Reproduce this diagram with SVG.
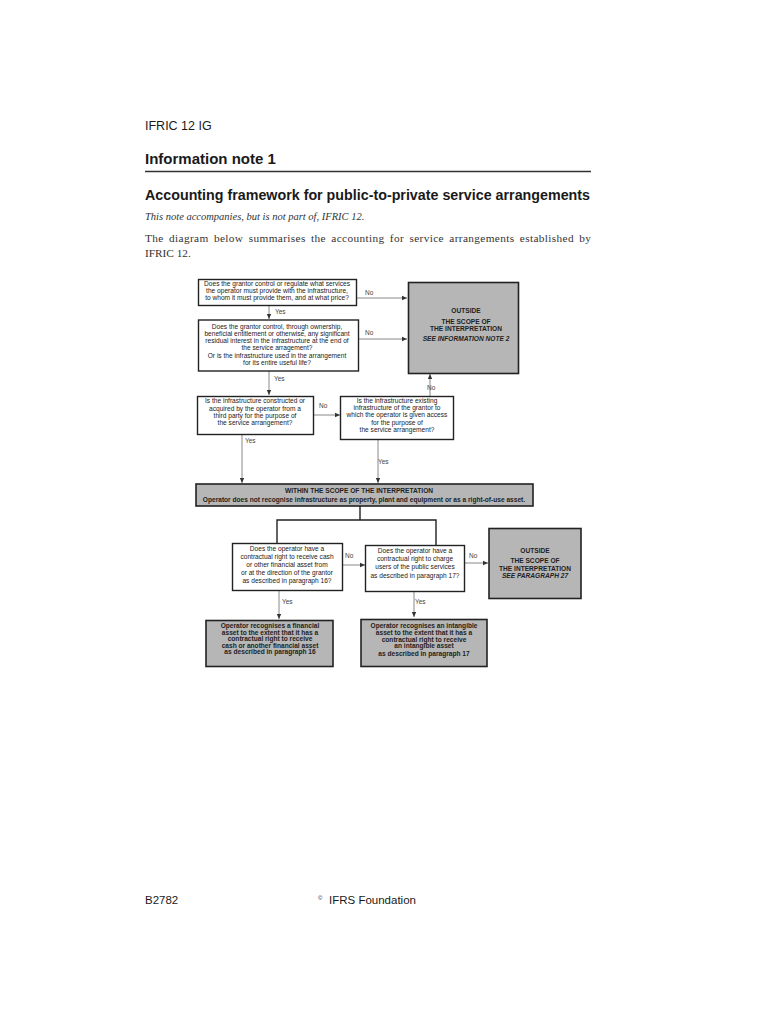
<svg xmlns="http://www.w3.org/2000/svg" width="768" height="1024" viewBox="0 0 768 1024">
<style>
.page{font-family:"Liberation Sans",Arial,sans-serif;fill:#1a1a1a}
.ser{font-family:"Liberation Serif","Times New Roman",serif;fill:#333}
.t{font-family:"Liberation Sans",Arial,sans-serif;font-size:6.6px;fill:#222;text-anchor:middle}
.tb{font-family:"Liberation Sans",Arial,sans-serif;font-size:6.6px;font-weight:bold;fill:#222;text-anchor:middle}
.lbl{font-family:"Liberation Sans",Arial,sans-serif;font-size:6.5px;fill:#444}
.box{fill:#fff;stroke:#222;stroke-width:1.4}
.gbox{fill:#b6b6b6;stroke:#222;stroke-width:1.6}
.c{stroke:#888;stroke-width:1;fill:none}
.ck{stroke:#222;stroke-width:1.4;fill:none}
</style>
<defs>
<marker id="ah" markerWidth="6" markerHeight="6" refX="5" refY="3" orient="auto" markerUnits="userSpaceOnUse">
<path d="M0,0.8 L5,3 L0,5.2 Z" fill="#333"/>
</marker>
</defs>
<rect width="768" height="1024" fill="#fff"/>

<g id="header">
<text class="page" x="145" y="130" font-size="12.5">IFRIC 12 IG</text>
<text class="page" x="145" y="164" font-size="15" font-weight="bold">Information note 1</text>
<line x1="145" y1="171.5" x2="591" y2="171.5" stroke="#333" stroke-width="1.4"/>
<text class="page" x="145" y="200" font-size="15.5" font-weight="bold" textLength="445" lengthAdjust="spacingAndGlyphs">Accounting framework for public-to-private service arrangements</text>
<text class="ser" x="145" y="220" font-size="10.5" font-style="italic">This note accompanies, but is not part of, IFRIC 12.</text>
<text class="ser" x="145" y="242" font-size="11.3" word-spacing="2.2" textLength="446" lengthAdjust="spacing">The diagram below summarises the accounting for service arrangements established by</text>
<text class="ser" x="145" y="257" font-size="11.3">IFRIC 12.</text>
</g>

<g id="connectors">
<line class="c" x1="357" y1="298" x2="407" y2="298" marker-end="url(#ah)"/>
<line class="c" x1="359" y1="339" x2="407" y2="339" marker-end="url(#ah)"/>
<line class="c" x1="269" y1="305" x2="269" y2="319" marker-end="url(#ah)"/>
<line class="c" x1="269" y1="371" x2="269" y2="395" marker-end="url(#ah)"/>
<line class="c" x1="313" y1="415" x2="340" y2="415" marker-end="url(#ah)"/>
<line class="c" x1="430" y1="396" x2="430" y2="374" marker-end="url(#ah)"/>
<line class="c" x1="242" y1="434" x2="242" y2="483" marker-end="url(#ah)"/>
<line class="c" x1="378" y1="439" x2="378" y2="483" marker-end="url(#ah)"/>
<polyline class="ck" points="360,506 360,520"/>
<polyline class="ck" points="277,543 277,520 436,520 436,545"/>
<line class="c" x1="342" y1="565" x2="365" y2="565" marker-end="url(#ah)"/>
<line class="c" x1="465" y1="563" x2="488" y2="563" marker-end="url(#ah)"/>
<line class="c" x1="279" y1="590" x2="279" y2="619" marker-end="url(#ah)"/>
<line class="c" x1="414" y1="592" x2="414" y2="617" marker-end="url(#ah)"/>
<text class="lbl" x="365" y="295">No</text>
<text class="lbl" x="365" y="335">No</text>
<text class="lbl" x="275" y="314">Yes</text>
<text class="lbl" x="274" y="381">Yes</text>
<text class="lbl" x="319" y="408">No</text>
<text class="lbl" x="427" y="390">No</text>
<text class="lbl" x="245" y="443">Yes</text>
<text class="lbl" x="378" y="464">Yes</text>
<text class="lbl" x="345" y="558">No</text>
<text class="lbl" x="469" y="558">No</text>
<text class="lbl" x="282" y="604">Yes</text>
<text class="lbl" x="415" y="604">Yes</text>
</g>

<g id="q1">
<rect class="box" x="198.5" y="279.5" width="158" height="26"/>
<text class="t" x="277" y="285.5">Does the grantor control or regulate what services</text>
<text class="t" x="277" y="292.5">the operator must provide with the infrastructure,</text>
<text class="t" x="277" y="299.5">to whom it must provide them, and at what price?</text>
</g>

<g id="q2">
<rect class="box" x="198.5" y="320" width="160" height="51"/>
<text class="t" x="277" y="328.5">Does the grantor control, through ownership,</text>
<text class="t" x="277" y="335.5">beneficial entitlement or otherwise, any significant</text>
<text class="t" x="277" y="342.5">residual interest in the infrastructure at the end of</text>
<text class="t" x="277" y="349.5">the service arragement?</text>
<text class="t" x="277" y="358">Or is the infrastructure used in the arrangement</text>
<text class="t" x="277" y="365">for its entire useful life?</text>
</g>

<g id="outside1">
<rect class="gbox" x="408.5" y="282.5" width="110" height="91"/>
<text class="tb" x="466" y="313">OUTSIDE</text>
<text class="tb" x="466" y="324">THE SCOPE OF</text>
<text class="tb" x="466" y="331">THE INTERPRETATION</text>
<text class="tb" x="466" y="341" font-style="italic">SEE INFORMATION NOTE 2</text>
</g>

<g id="q3">
<rect class="box" x="197.5" y="396.5" width="116" height="38"/>
<text class="t" x="255" y="403">Is the infrastructure constructed or</text>
<text class="t" x="255" y="410.5">acquired by the operator from a</text>
<text class="t" x="255" y="418">third party for the purpose of</text>
<text class="t" x="255" y="425">the service arrangement?</text>
</g>

<g id="q4">
<rect class="box" x="340.5" y="396.5" width="113" height="43"/>
<text class="t" x="397" y="402.5">Is the infrastructure existing</text>
<text class="t" x="397" y="409.5">infrastructure of the grantor to</text>
<text class="t" x="397" y="417">which the operator is given access</text>
<text class="t" x="397" y="424.5">for the purpose of</text>
<text class="t" x="397" y="432">the service arrangement?</text>
</g>

<g id="within">
<rect class="gbox" x="196" y="484" width="337" height="22"/>
<text class="tb" x="359" y="493">WITHIN THE SCOPE OF THE INTERPRETATION</text>
<text class="tb" x="364" y="501.5">Operator does not recognise infrastructure as property, plant and equipment or as a right-of-use asset.</text>
</g>

<g id="q5">
<rect class="box" x="232.5" y="543.5" width="110" height="47"/>
<text class="t" x="287" y="550.5">Does the operator have a</text>
<text class="t" x="287" y="558.5">contractual right to receive cash</text>
<text class="t" x="287" y="566.5">or other financial asset from</text>
<text class="t" x="287" y="574.5">or at the direction of the grantor</text>
<text class="t" x="287" y="582.5">as described in paragraph 16?</text>
</g>

<g id="q6">
<rect class="box" x="365.5" y="545.5" width="99" height="46"/>
<text class="t" x="415" y="552.5">Does the operator have a</text>
<text class="t" x="415" y="560.5">contractual right to charge</text>
<text class="t" x="415" y="569">users of the public services</text>
<text class="t" x="415" y="577.5">as described in paragraph 17?</text>
</g>

<g id="outside2">
<rect class="gbox" x="489" y="528.5" width="92" height="70"/>
<text class="tb" x="535" y="552.5">OUTSIDE</text>
<text class="tb" x="535" y="562.5">THE SCOPE OF</text>
<text class="tb" x="535" y="570.5">THE INTERPRETATION</text>
<text class="tb" x="535" y="577.5" font-style="italic">SEE PARAGRAPH 27</text>
</g>

<g id="r1">
<rect class="gbox" x="206" y="620.5" width="127" height="46"/>
<text class="tb" x="270" y="628">Operator recognises a financial</text>
<text class="tb" x="270" y="634.5">asset to the extent that it  has a</text>
<text class="tb" x="270" y="641">contractual right to receive</text>
<text class="tb" x="270" y="647.5">cash or another financial asset</text>
<text class="tb" x="270" y="654">as described in paragraph 16</text>
</g>

<g id="r2">
<rect class="gbox" x="361" y="619.5" width="126" height="47"/>
<text class="tb" x="424" y="627.5">Operator recognises an  intangible</text>
<text class="tb" x="424" y="635">asset to the extent that it has a</text>
<text class="tb" x="424" y="641.5">contractual right to receive</text>
<text class="tb" x="424" y="648">an intangible asset</text>
<text class="tb" x="424" y="655.5">as described in paragraph 17</text>
</g>

<g id="footer">
<text class="page" x="145" y="904" font-size="11.5">B2782</text>
<text class="page" x="318" y="900" font-size="6">©</text>
<text class="page" x="329" y="904" font-size="11.5">IFRS Foundation</text>
</g>
</svg>
